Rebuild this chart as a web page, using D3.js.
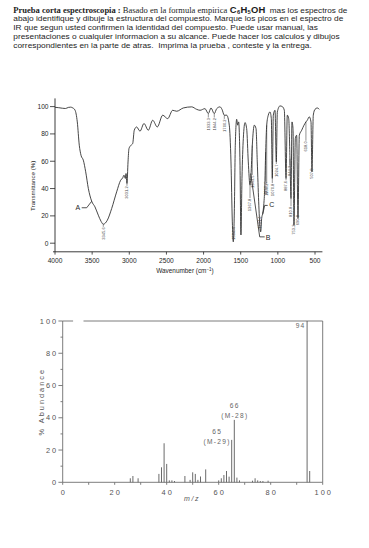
<!DOCTYPE html>
<html><head><meta charset="utf-8">
<script src="https://cdn.jsdelivr.net/npm/d3@7"></script>
<style>body{margin:0;background:#fff} svg{display:block} text{white-space:pre}</style>
</head><body>
<svg id="c" width="369" height="548"></svg>
<script>
// ---------------- DATA ----------------
const headerLines = [
  "abajo identifique y dibuje la estructura del compuesto. Marque los picos en el espectro de",
  "IR que segun usted confirmen la identidad del compuesto. Puede usar manual, las",
  "presentaciones o cualquier informacion a su alcance. Puede hacer los calculos y dibujos",
  "correspondientes en la parte de atras.  Imprima la prueba , conteste y la entrega."
];
const irWavenumbers = [4000,3950,3900,3860,3820,3790,3760,3731,3700,3673,3650,3619,3587,3551,3506,3462,3417,3380,3350,3296,3237,3170,3116,3089,3071,3053,3044,3031,3017,3004,2977,2954,2933,2901,2856,2802,2744,2685,2623,2550,2483,2416,2362,2273,2160,2093,2048,1981,1936,1900,1856,1823,1779,1752,1721,1689,1654,1631,1613,1600,1586,1573,1554,1541,1528,1510,1497,1483,1465,1442,1420,1398,1375,1362,1344,1317,1294,1277,1258,1240,1231,1218,1204,1190,1177,1164,1150,1129,1106,1088,1075,1061,1038,1021,1007,971,940,913,890,873,854,837,823,810,796,783,765,747,729,711,679,648,622,604,577,554,541,523,500,469,442];
const irTransmittance = [99.5,99.2,98.8,98.6,99.4,99.6,99.0,97.5,88.8,71.7,64.4,60.8,52.3,40.0,30.7,26.6,20.5,16.0,13.9,16.8,25.4,37.6,46.1,47.8,49.8,47.4,51.0,43.7,59.5,69.3,71.7,73.0,82.7,85.1,82.0,87.6,82.7,90.0,85.1,93.7,91.2,97.3,96.6,99.0,99.8,98.0,97.3,98.5,94.9,99.0,94.9,98.5,99.8,98.0,93.7,93.7,86.4,59.5,15.6,1.0,22.9,71.7,90.7,86.4,88.8,59.5,6.0,47.4,76.6,88.3,83.9,59.5,42.5,49.8,71.7,86.4,83.9,59.5,30.3,10.8,8.3,18.1,21.8,27.9,40.0,66.9,86.4,93.7,96.1,91.2,47.4,93.7,97.3,59.5,96.1,100.5,100.0,97.3,47.4,93.7,91.2,62.0,32.7,88.8,83.9,13.2,76.6,79.0,18.1,79.0,82.7,86.4,88.8,90.0,92.5,88.8,52.2,93.7,98.0,99.0,98.0];
const irXTicks = [4000,3500,3000,2500,2000,1500,1000,500];
const irYTicks = [0,20,40,60,80,100];
// peak labels: wavenumber of the dip, label text, transmittance where label text begins
const irPeakAt    = [3350,3031,1936,1856,1721,1600,1375,1344,1240,1164,1150,1075,1021,890,837,823,783,729,622,541];
const irPeakText  = ["3345.6","3031.2","1933.3","1844.2","1700.2","1594.4","1367.8","1343.5","1231.4","1169.4","1150.2","1070.8","1024.7","887.6","844.3","810.8","753.2","690.8","618.0","507.8"];
const irPeakTop   = [12,42,92,92,91,12,33,50,20,45,44,44,58,46,57,27,14,21,75,55];
// lettered markers: letter, wavenumber/transmittance of the pointed dip
const irMarkLetters = ["A","B","C"];
const irMarkWn = [3506,1231,1204];
const irMarkT  = [30.7,8.3,21.8];

const msMz    = [26,27,29,37,38,39,40,41,42,43,47,49,50,51,52,53,55,60,61,62,63,64,65,66,67,68,73,74,75,76,77,79,94,95];
const msAbund = [2.5,3.9,2.5,5.2,9.3,24.2,11.4,1.2,1.2,0.8,3.9,1.5,6.2,5.2,1.5,3.6,8.0,1.2,2.5,4.5,7.0,3.5,26.3,38.7,2.9,1.2,1.0,2.5,1.2,0.8,0.8,1.0,100,7.0];
const msXTicks = [0,20,40,60,80,100];
const msYTicks = [0,20,40,60,80,100];
const msAnnotMz = [94,66,65];
const msAnnotText = [["94"],["66","(M-28)"],["65","(M-29)"]];

// ---------------- DRAW ----------------
const svg = d3.select("#c");
const SANS = "'Liberation Sans', Arial, sans-serif";
const SERIF = "'Liberation Serif', 'Times New Roman', serif";

// Header (the scanned text is slightly wider than Arial: stretch horizontally)
const x0 = 13.3, lh = 8.9, y0 = 12.6, fs = 7.3;
const hdr = svg.append("g").attr("font-family", SANS).attr("fill", "#1c1c1c").attr("font-size", fs);
const probe = hdr.append("text").text(headerLines[0]);
const sx = 330 / probe.node().getComputedTextLength();
probe.remove();
hdr.attr("transform", `translate(${x0},0) scale(${sx},1)`);
const t1 = hdr.append("text").attr("x", 0).attr("y", y0);
t1.append("tspan").attr("font-family", SERIF).attr("font-weight", "bold").attr("font-size", fs*1.04).text("Prueba corta espectroscopia :");
t1.append("tspan").attr("font-family", SERIF).attr("font-size", fs*1.04).text(" Basado en la formula empirica ");
const chem = [["C",0],["6",1],["H",0],["5",1],["OH",0]];
let prevSub = 0;
chem.forEach(([s, sub]) => {
  const dy = (sub - prevSub) * 1.6;
  t1.append("tspan").attr("font-weight", "bold").attr("font-size", sub ? fs*0.7 : fs*1.15)
    .attr("dx", 0.3).attr("dy", dy).text(s);
  prevSub = sub;
});
t1.append("tspan").attr("dy", -1.6*prevSub).text("  mas los espectros de");
const lim = 334 / sx;
if (t1.node().getComputedTextLength() > lim) t1.attr("textLength", lim).attr("lengthAdjust", "spacingAndGlyphs");
headerLines.forEach((l, i) => {
  hdr.append("text").attr("x", 0).attr("y", y0 + (i+1)*lh).text(l);
});

// ---------- IR spectrum ----------
const ink = "#262626";
const irX = d3.scaleLinear().domain([4000, 500]).range([55, 315]);
const irY = d3.scaleLinear().domain([0, 100]).range([243.2, 106.6]);
const ir = svg.append("g").attr("font-family", SANS).attr("fill", ink);

ir.append("line").attr("x1", irX(4000)).attr("x2", irX(4000)).attr("y1", irY(106)).attr("y2", irY(-6.3))
  .attr("stroke", ink).attr("stroke-width", 0.9);
ir.append("line").attr("x1", irX(4000)-2).attr("x2", irX(400)).attr("y1", irY(-6.3)).attr("y2", irY(-6.3))
  .attr("stroke", ink).attr("stroke-width", 0.9);
irYTicks.forEach(v => {
  ir.append("line").attr("x1", irX(4000)-5).attr("x2", irX(4000)).attr("y1", irY(v)).attr("y2", irY(v))
    .attr("stroke", ink).attr("stroke-width", 0.8);
  ir.append("text").attr("x", irX(4000)-6.5).attr("y", irY(v)).attr("dy", "0.35em")
    .attr("text-anchor", "end").attr("font-size", 6.6).text(v);
});
irXTicks.forEach(v => {
  ir.append("line").attr("x1", irX(v)).attr("x2", irX(v)).attr("y1", irY(-6.3)).attr("y2", irY(-6.3)+2.8)
    .attr("stroke", ink).attr("stroke-width", 0.8);
  ir.append("text").attr("x", irX(v)).attr("y", irY(-6.3)+11.5)
    .attr("text-anchor", "middle").attr("font-size", 6.6).text(v);
});
const xl = ir.append("text").attr("x", (irX(4000)+irX(500))/2).attr("y", 273).attr("text-anchor", "middle").attr("font-size", 6.4);
xl.append("tspan").text("Wavenumber (cm");
xl.append("tspan").attr("font-size", 4.5).attr("dy", -2.3).text("\u22121");
xl.append("tspan").attr("dy", 2.3).text(")");
ir.append("text").attr("transform", `translate(35,${irY(42)}) rotate(-90)`)
  .attr("text-anchor", "middle").attr("font-size", 6.2).text("Transmittance (%)");

const irPts = irWavenumbers.map((w, i) => [w, irTransmittance[i]]);
ir.append("path").datum(irPts)
  .attr("d", d3.line().x(d => irX(d[0])).y(d => irY(d[1])).curve(d3.curveMonotoneX))
  .attr("fill", "none").attr("stroke", ink).attr("stroke-width", 0.85);

irPeakAt.forEach((w, i) => {
  const dip = irTransmittance[irWavenumbers.indexOf(w)];
  const x = irX(w);
  if (irPeakTop[i] < dip) {
    ir.append("line").attr("x1", x).attr("x2", x).attr("y1", irY(dip)).attr("y2", irY(irPeakTop[i]))
      .attr("stroke", ink).attr("stroke-width", 0.5);
  }
  ir.append("text").attr("transform", `translate(${x},${irY(irPeakTop[i])+0.5}) rotate(-90)`)
    .attr("text-anchor", "end").attr("dy", "0.35em").attr("font-size", 4.1).attr("fill", "#444")
    .text(irPeakText[i]);
});

const mk = ir.append("g").attr("fill", "none").attr("stroke", ink).attr("stroke-width", 0.8);
{
  const px = irX(irMarkWn[0]), py = irY(irMarkT[0]);
  mk.append("path").attr("d", `M${px},${py} L${px-5},${py+6.5} L${px-10},${py+6.5}`);
  ir.append("text").attr("x", px-11.5).attr("y", py+6.5).attr("dy", "0.35em").attr("text-anchor", "end")
    .attr("font-size", 7).text(irMarkLetters[0]);
}
{
  const px = irX(irMarkWn[1]), py = irY(irMarkT[1]);
  mk.append("path").attr("d", `M${px-10},${irY(51)} L${px-1},${py+5} L${px+4},${py+5}`);
  ir.append("text").attr("x", px+5).attr("y", py+5.5).attr("dy", "0.35em")
    .attr("font-size", 7).text(irMarkLetters[1]);
}
{
  const px = irX(irMarkWn[2]), py = irY(irMarkT[2]);
  mk.append("path").attr("d", `M${px},${py+1} L${px+2},${py-8} L${px+5},${py-8}`);
  ir.append("text").attr("x", px+6.5).attr("y", py-9).attr("dy", "0.35em")
    .attr("font-size", 7).text(irMarkLetters[2]);
}

// ---------- Mass spectrum ----------
const grey = "#6e6e6e";
const msX = d3.scaleLinear().domain([0, 100]).range([62.7, 322.7]);
const msY = d3.scaleLinear().domain([0, 100]).range([482.3, 321]);
const ms = svg.append("g").attr("font-family", SANS).attr("fill", "#555");

const fr = ms.append("g").attr("stroke", grey).attr("stroke-width", 0.9).attr("fill", "none");
fr.append("line").attr("x1", msX(0)).attr("x2", msX(0)).attr("y1", msY(0)).attr("y2", msY(100));
fr.append("line").attr("x1", msX(0)).attr("x2", msX(4)).attr("y1", msY(100)).attr("y2", msY(100));
fr.append("line").attr("x1", msX(8)).attr("x2", msX(100)).attr("y1", msY(100)).attr("y2", msY(100));
fr.append("line").attr("x1", msX(100)).attr("x2", msX(100)).attr("y1", msY(100)).attr("y2", msY(0));
fr.append("line").attr("x1", msX(0)).attr("x2", msX(100)).attr("y1", msY(0)).attr("y2", msY(0));
d3.range(0, 101, 10).forEach(v => {
  const major = msYTicks.includes(v);
  fr.append("line").attr("x1", msX(0) - (major ? 4.3 : 2.2)).attr("x2", msX(0)).attr("y1", msY(v)).attr("y2", msY(v));
  fr.append("line").attr("x1", msX(v)).attr("x2", msX(v)).attr("y1", msY(0)).attr("y2", msY(0) + 2.5);
});
msYTicks.forEach(v => {
  ms.append("text").attr("x", msX(0) - 4.5).attr("y", msY(v)).attr("dy", "0.35em").attr("text-anchor", "end")
    .attr("font-size", 7.4).attr("letter-spacing", 2).text(v);
});
msXTicks.forEach(v => {
  ms.append("text").attr("x", msX(v) + 1).attr("y", msY(0) + 12.3).attr("text-anchor", "middle")
    .attr("font-size", 7.4).attr("letter-spacing", 2).text(v);
});
ms.append("text").attr("x", 192).attr("y", 501).attr("text-anchor", "middle").attr("font-style", "italic")
  .attr("font-size", 7).attr("letter-spacing", 1.6).text("m/z");
ms.append("text").attr("transform", `translate(43.5,${msY(50)}) rotate(-90)`).attr("text-anchor", "middle")
  .attr("font-size", 7.4).attr("letter-spacing", 2).text("% Abundance");

ms.append("g").selectAll("line").data(msMz).join("line")
  .attr("x1", d => msX(d)).attr("x2", d => msX(d))
  .attr("y1", msY(0)).attr("y2", (d, i) => msY(msAbund[i]))
  .attr("stroke", "#5a5a5a").attr("stroke-width", 0.9);

msAnnotMz.forEach((m, i) => {
  const a = msAbund[msMz.indexOf(m)];
  const lines = msAnnotText[i];
  const g = ms.append("g").attr("font-size", 6.6).attr("letter-spacing", 1.3).attr("fill", "#666");
  if (m === 94) {
    g.append("text").attr("x", msX(m) - 1.5).attr("y", msY(a) + 7).attr("text-anchor", "end").text(lines[0]);
  } else if (m === 66) {
    lines.forEach((t, k) => g.append("text").attr("x", msX(m) + 0.5).attr("y", msY(a) - 1.5 - (lines.length-1-k)*10)
      .attr("text-anchor", "middle").text(t));
  } else {
    lines.forEach((t, k) => g.append("text").attr("x", msX(m) - 14.5).attr("y", msY(a) + 4 - (lines.length-1-k)*10)
      .attr("text-anchor", "middle").text(t));
  }
});
</script>
</body></html>
